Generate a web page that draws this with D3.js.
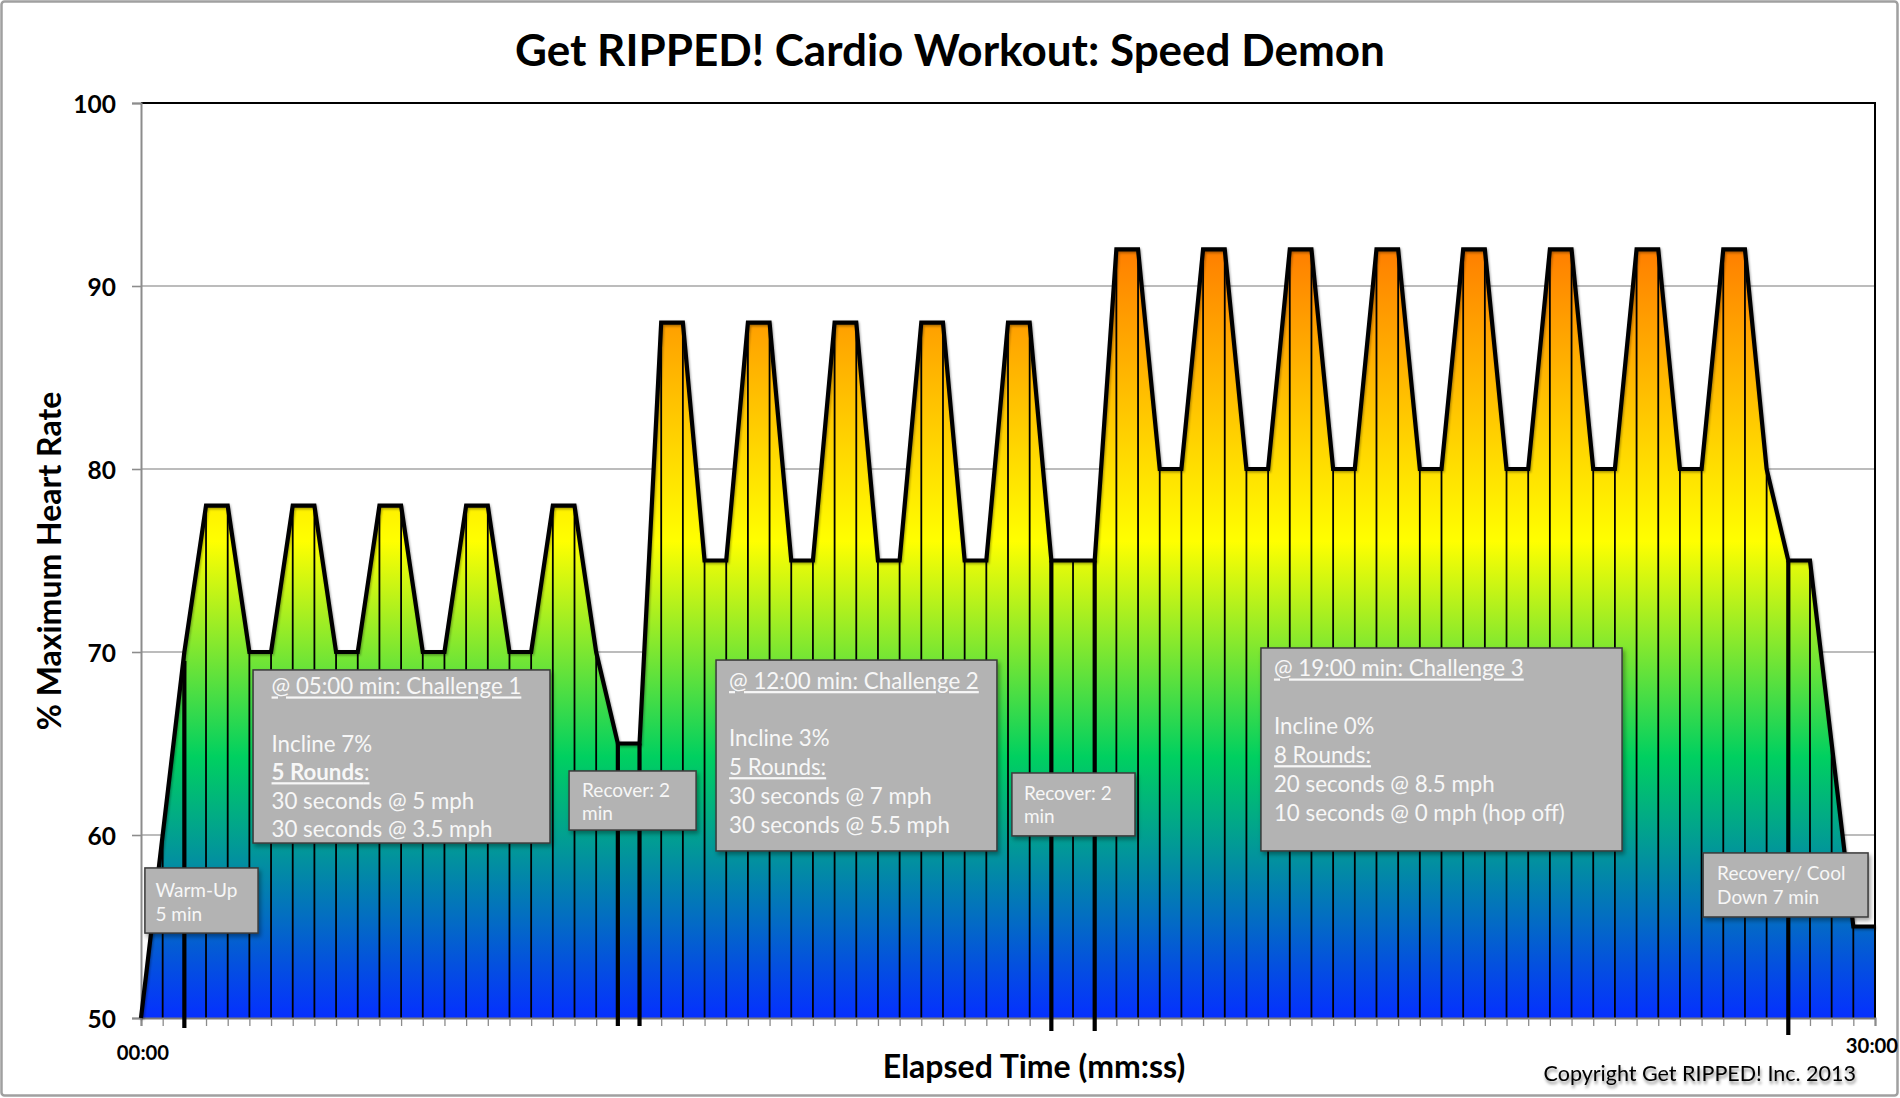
<!DOCTYPE html>
<html><head><meta charset="utf-8">
<script src="https://cdn.jsdelivr.net/npm/d3@7"></script>
<style>
body{margin:0;background:#fff}
svg{display:block}
text{font-family:Lato,"Open Sans",sans-serif}
</style>
</head><body>
<svg id="chart" width="1900" height="1098"></svg>
<script>
// ---------- DATA ----------
const values = [50,60,70,78,78,70,70,78,78,70,70,78,78,70,70,78,78,70,70,78,78,
  70,65,65,88,88,75,75,88,88,75,75,88,88,75,75,88,88,75,75,88,88,75,75,75,
  92,92,80,80,92,92,80,80,92,92,80,80,92,92,80,80,92,92,80,80,92,92,80,80,92,92,80,80,92,92,
  80,75,75,65,55,55];
const xTickLabels = ["00:00", "30:00"];
const yTickValues = [50, 60, 70, 80, 90, 100];
const pointerIndices = [2, 22, 23, 42, 44, 76];
const titleText = "Get RIPPED! Cardio Workout: Speed Demon";
const yTitle = "% Maximum Heart Rate";
const xTitle = "Elapsed Time (mm:ss)";
const copyrightText = "Copyright Get RIPPED! Inc. 2013";
const warmUpLines = [[{t:"Warm-Up"}],[{t:"5 min"}]];
const recover1Lines = [[{t:"Recover: 2"}],[{t:"min"}]];
const recover2Lines = [[{t:"Recover: 2"}],[{t:"min"}]];
const coolDownLines = [[{t:"Recovery/ Cool"}],[{t:"Down 7 min"}]];
const challenge1Lines = [[{t:"@ 05:00 min: Challenge 1",u:1}],[],[{t:"Incline 7%"}],
  [{t:"5 Rounds",u:1,b:1},{t:":",u:1}],[{t:"30 seconds @ 5 mph"}],[{t:"30 seconds @ 3.5 mph"}]];
const challenge2Lines = [[{t:"@ 12:00 min: Challenge 2",u:1}],[],[{t:"Incline 3%"}],
  [{t:"5 Rounds:",u:1}],[{t:"30 seconds @ 7 mph"}],[{t:"30 seconds @ 5.5 mph"}]];
const challenge3Lines = [[{t:"@ 19:00 min: Challenge 3",u:1}],[],[{t:"Incline 0%"}],
  [{t:"8 Rounds:",u:1}],[{t:"20 seconds @ 8.5 mph"}],[{t:"10 seconds @ 0 mph (hop off)"}]];

// ---------- LAYOUT ----------
const svg = d3.select("#chart");
const W = 1900, H = 1098;
const plot = {l:141, r:1875, t:103, b:1018};
const x = d3.scaleLinear().domain([0, values.length - 1]).range([plot.l, plot.r]);
const y = d3.scaleLinear().domain([50, 100]).range([plot.b, plot.t]);

const defs = svg.append("defs");
const grad = defs.append("linearGradient").attr("id","hr").attr("gradientUnits","userSpaceOnUse")
  .attr("x1",0).attr("x2",0).attr("y1",y(50)).attr("y2",y(92));
[[0,"#0530ff"],[0.34,"#00d060"],[0.62,"#ffff00"],[1,"#ff7f00"]].forEach(s=>
  grad.append("stop").attr("offset",s[0]).attr("stop-color",s[1]));
const sh = defs.append("filter").attr("id","boxShadow").attr("x","-10%").attr("y","-10%").attr("width","130%").attr("height","140%");
sh.append("feDropShadow").attr("dx",2).attr("dy",3).attr("stdDeviation",2).attr("flood-color","#000").attr("flood-opacity",0.35);
const tsh = defs.append("filter").attr("id","textShadow").attr("x","-5%").attr("y","-30%").attr("width","110%").attr("height","180%");
tsh.append("feDropShadow").attr("dx",1).attr("dy",3).attr("stdDeviation",1.5).attr("flood-color","#000").attr("flood-opacity",0.45);
const lsh = defs.append("filter").attr("id","lineShadow").attr("x","-5%").attr("y","-5%").attr("width","110%").attr("height","110%");
lsh.append("feDropShadow").attr("dx",1).attr("dy",1.5).attr("stdDeviation",1.2).attr("flood-color","#000").attr("flood-opacity",0.35);

// outer frame
svg.append("rect").attr("x",1.5).attr("y",1.5).attr("width",W-4).attr("height",H-4)
  .attr("fill","#fff").attr("stroke","#a0a0a0").attr("stroke-width",2.5).attr("rx",3);

// title
svg.append("text").attr("x",950).attr("y",66).attr("text-anchor","middle")
  .attr("font-size",44).attr("font-weight",700).attr("fill","#000").text(titleText);

// gridlines
svg.append("g").selectAll("line").data(yTickValues.filter(v=>v>50 && v<100)).join("line")
  .attr("x1",plot.l).attr("x2",plot.r).attr("y1",d=>y(d)).attr("y2",d=>y(d))
  .attr("stroke","#a6a6a6").attr("stroke-width",1.6);

// area
svg.append("path").datum(values)
  .attr("d", d3.area().x((d,i)=>x(i)).y0(y(50)).y1(d=>y(d)))
  .attr("fill","url(#hr)");

// drop lines
svg.append("g").selectAll("line").data(values).join("line")
  .attr("x1",(d,i)=>x(i)).attr("x2",(d,i)=>x(i)).attr("y1",d=>y(d)).attr("y2",y(50))
  .attr("stroke","#000").attr("stroke-width",1.8);

// plot border top/right
svg.append("path").attr("d",`M${plot.l},${plot.t}H${plot.r}V${plot.b}`)
  .attr("fill","none").attr("stroke","#000").attr("stroke-width",2);

// y axis
const yAxis = svg.append("g").attr("transform",`translate(${plot.l},0)`)
  .call(d3.axisLeft(y).tickValues(yTickValues).tickSize(9).tickPadding(16).tickFormat(d3.format("d")));
yAxis.select(".domain").attr("stroke","#8c8c8c").attr("stroke-width",2);
yAxis.selectAll(".tick line").attr("stroke","#8c8c8c").attr("stroke-width",1.6);
yAxis.selectAll(".tick text").attr("font-size",24.5).attr("font-weight",700).attr("fill","#000")
  .attr("font-family","Lato,sans-serif").attr("dy","0.4em");

// x axis ticks
const xAxis = svg.append("g").attr("transform",`translate(0,${plot.b})`)
  .call(d3.axisBottom(x).tickValues(d3.range(values.length)).tickSize(8).tickFormat(""));
xAxis.select(".domain").attr("stroke","#7a7a7a").attr("stroke-width",2);
xAxis.selectAll(".tick line").attr("stroke","#8c8c8c").attr("stroke-width",1.3);

// x tick labels (first and last)
const xLabIdx = [0, values.length - 1];
svg.append("g").selectAll("text").data(xTickLabels).join("text")
  .attr("x",(d,k)=>x(xLabIdx[k]) + (k===0?2:-3)).attr("y",(d,k)=>k===0?1060:1053)
  .attr("text-anchor","middle").attr("font-size",20.3).attr("font-weight",700).text(d=>d);

// main line
svg.append("path").datum(values)
  .attr("d", d3.line().x((d,i)=>x(i)).y(d=>y(d)))
  .attr("fill","none").attr("stroke","#000").attr("stroke-width",4.2)
  .attr("stroke-linejoin","miter").attr("filter","url(#lineShadow)");

// pointer lines (thick)
const pointerExt = {2:10, 22:8, 23:8, 42:13, 44:13, 76:17};
svg.append("g").selectAll("line").data(pointerIndices).join("line")
  .attr("x1",d=>x(d)).attr("x2",d=>x(d)).attr("y1",d=>y(values[d]) + (d===2?9:0)).attr("y2",d=>y(50)+pointerExt[d])
  .attr("stroke","#000").attr("stroke-width",4.2);

// callout boxes (positioned in data coordinates)
function callout(i0, i1, vTop, vBot, lines, fs, step, padX, firstDy){
  const bx = x(i0), bw = x(i1) - x(i0), by = y(vTop), bh = y(vBot) - y(vTop);
  const g = svg.append("g");
  g.append("rect").attr("x",bx).attr("y",by).attr("width",bw).attr("height",bh)
    .attr("fill","#b3b3b3").attr("stroke","#3a3a3a").attr("stroke-width",1.5).attr("filter","url(#boxShadow)");
  lines.forEach((segs, k)=>{
    const t = g.append("text").attr("x",bx+padX).attr("y",by+firstDy+k*step)
      .attr("font-size",fs).attr("fill","#f7f7f7");
    segs.forEach(s=>{
      t.append("tspan").text(s.t).attr("font-weight",s.b?700:400)
        .style("text-decoration",s.u?"underline":"none");
    });
  });
}
callout(0.18, 5.40, 58.20, 54.64, warmUpLines, 19, 24, 10.5, 29);
callout(5.17, 18.87, 69.02, 59.56, challenge1Lines, 22.3, 28.6, 18.5, 24.5);
callout(19.75, 25.61, 63.50, 60.27, recover1Lines, 19, 23, 13, 26);
callout(26.53, 39.49, 69.56, 59.13, challenge2Lines, 22.3, 28.7, 13, 29);
callout(40.18, 45.86, 63.39, 59.95, recover2Lines, 19, 23, 12, 27);
callout(51.67, 68.33, 70.22, 59.13, challenge3Lines, 22.3, 28.9, 13, 28.5);
callout(72.07, 79.68, 59.02, 55.52, coolDownLines, 19, 23.2, 14, 27.5);

// axis titles
svg.append("text").attr("transform","translate(61,561) rotate(-90)").attr("text-anchor","middle")
  .attr("font-size",32).attr("font-weight",700).text(yTitle);
svg.append("text").attr("x",1034).attr("y",1078).attr("text-anchor","middle")
  .attr("font-size",32).attr("font-weight",700).text(xTitle);
svg.append("text").attr("x",1856).attr("y",1081).attr("text-anchor","end")
  .attr("font-size",21.5).attr("fill","#000").attr("filter","url(#textShadow)").text(copyrightText);
</script>
</body></html>
